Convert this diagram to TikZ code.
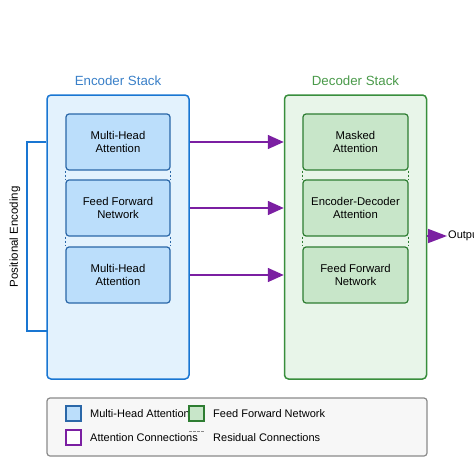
\documentclass[tikz,border=0pt]{standalone}
\usepackage{fontspec}
\setmainfont{Liberation Sans}
\usetikzlibrary{arrows.meta,positioning,calc}

\definecolor{encfill}{HTML}{E3F2FD}
\definecolor{encline}{HTML}{1976D2}
\definecolor{enctext}{HTML}{3A80C8}
\definecolor{encbox}{HTML}{BBDEFB}
\definecolor{encboxline}{HTML}{2A67A8}
\definecolor{decfill}{HTML}{E8F5E9}
\definecolor{decline}{HTML}{388E3C}
\definecolor{dectext}{HTML}{4A9A4A}
\definecolor{decbox}{HTML}{C8E6C9}
\definecolor{decboxline}{HTML}{2E7D32}
\definecolor{attncol}{HTML}{7B1FA2}
\definecolor{legfill}{HTML}{F7F7F7}
\definecolor{legline}{HTML}{8A8A8A}

\tikzset{
    stack/.style={draw, line width=1.5pt, rounded corners=4pt, minimum width=142pt, minimum height=284pt},
    layer/.style={draw, line width=1.2pt, rounded corners=3pt, minimum height=56pt, align=center, font=\fontsize{11.3}{13.5}\selectfont},
    title/.style={font=\fontsize{13.3}{15}\selectfont},
    attn/.style={draw=attncol, line width=1.6pt, -{Triangle[length=16pt, width=14pt]}},
    resid/.style={line width=0.9pt, dash pattern=on 2.5pt off 1.5pt},
    legtext/.style={anchor=west, font=\fontsize{11}{13}\selectfont, inner sep=0pt},
    legkey/.style={draw, line width=1.2pt, minimum size=15pt, inner sep=0pt}
}

\begin{document}
\begin{tikzpicture}[x=1pt, y=-1pt]
    \useasboundingbox (0,0) rectangle (474,474);

    % Encoder stack
    \node[stack, fill=encfill, draw=encline] (enc) at (118,237) {};
    \node[title, text=enctext] (enctitle) at (118,81) {Encoder Stack};
    \node[layer, fill=encbox, draw=encboxline, minimum width=104pt] (e1) at (118,142) {Multi-Head\\Attention};
    \node[layer, fill=encbox, draw=encboxline, minimum width=104pt] (e2) at (118,208) {Feed Forward\\Network};
    \node[layer, fill=encbox, draw=encboxline, minimum width=104pt] (e3) at (118,275) {Multi-Head\\Attention};

    % Decoder stack
    \node[stack, fill=decfill, draw=decline] (dec) at (355.5,237) {};
    \node[title, text=dectext] (dectitle) at (355.5,81) {Decoder Stack};
    \node[layer, fill=decbox, draw=decboxline, minimum width=105pt] (d1) at (355.5,142) {Masked\\Attention};
    \node[layer, fill=decbox, draw=decboxline, minimum width=105pt] (d2) at (355.5,208) {Encoder-Decoder\\Attention};
    \node[layer, fill=decbox, draw=decboxline, minimum width=105pt] (d3) at (355.5,275) {Feed Forward\\Network};

    % residual connections between layers
    \foreach \a/\b in {e1/e2, e2/e3} {
        \draw[resid, encboxline] (\a.south west) -- (\b.north west);
        \draw[resid, encboxline] (\a.south east) -- (\b.north east);
    }
    \foreach \a/\b in {d1/d2, d2/d3} {
        \draw[resid, decboxline] (\a.south west) -- (\b.north west);
        \draw[resid, decboxline] (\a.south east) -- (\b.north east);
    }

    % attention connections
    \foreach \i in {1,2,3}
        \draw[attn] (enc.east |- e\i) -- (dec.west |- d\i);

    % output
    \node[anchor=west, inner sep=1pt, font=\fontsize{11}{13}\selectfont] (out) at (447,236) {Output};
    \draw[attn, -{Triangle[length=19pt, width=14pt]}] (dec.east |- out) -- (out.west);

    % positional encoding bracket
    \coordinate (pebot) at (47,331);
    \draw[encline, line width=1.6pt] (enc.west |- e1) -- ++(-19,0) |- (pebot);
    \node[rotate=90, font=\fontsize{11.5}{13}\selectfont] (pelabel) at (15,237) {Positional Encoding};

    % Legend
    \node[draw=legline, fill=legfill, line width=1.2pt, rounded corners=3pt, minimum width=380pt, minimum height=58pt] (legend) at (237,427) {};
    \node[legkey, fill=encbox, draw=encboxline] (k1) at (73.5,413.5) {};
    \node[legtext] (t1) at (90,414) {Multi-Head Attention};
    \node[legkey, fill=decbox, draw=decboxline] (k2) at (196.5,413.5) {};
    \node[legtext] (t2) at (213,414) {Feed Forward Network};
    \node[legkey, fill=white, draw=attncol] (k3) at (73.5,437.5) {};
    \node[legtext] (t3) at (90,438) {Attention Connections};
    \coordinate (k4a) at (189,431);
    \coordinate (k4b) at (204,431);
    \draw[resid, legline, line width=1pt] (k4a) -- (k4b);
    \node[legtext] (t4) at (213,438) {Residual Connections};
\end{tikzpicture}
\end{document}
